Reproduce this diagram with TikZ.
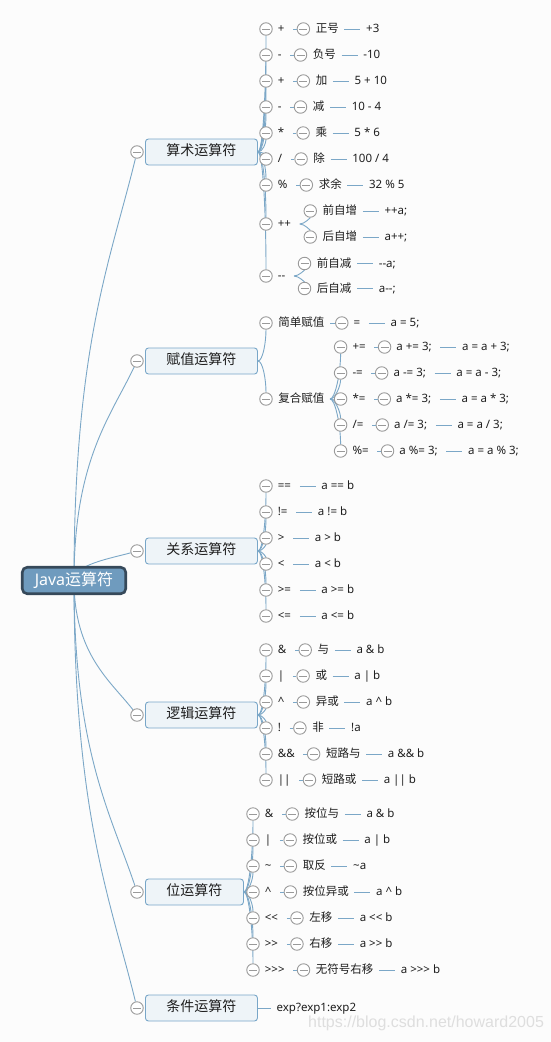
\documentclass[tikz,border=0pt]{standalone}
\usepackage{fontspec}
\setmainfont{Noto Sans}[Ligatures=TeXOff]
\newfontfamily\cjk{Noto Sans CJK SC}
\newfontfamily\wmfont{Liberation Sans}
\usetikzlibrary{positioning,calc}
\definecolor{bgc}{HTML}{FCFCFC}
\definecolor{lnc}{HTML}{7BA7C7}
\definecolor{cg}{HTML}{9A9A9A}
\definecolor{txt}{HTML}{1E1E1E}
\definecolor{bxf}{HTML}{EEF4F8}
\definecolor{bxb}{HTML}{78A6C8}
\definecolor{rootf}{HTML}{6F9BBE}
\definecolor{rootb}{HTML}{36495A}
\definecolor{wmc}{HTML}{DEDEDE}
\newcommand\fsm{\fontsize{11.5pt}{13pt}\selectfont}
\newcommand\fbig{\fontsize{14pt}{16pt}\selectfont}
\newcommand\froot{\fontsize{16pt}{18pt}\selectfont}
\pgfdeclarelayer{back}\pgfdeclarelayer{lines}\pgfsetlayers{back,lines,main}
\tikzset{
 cc/.style={circle, draw=cg, fill=white, line width=0.9pt, minimum size=12.5pt, inner sep=0pt,
   path picture={\draw[cg, line width=0.9pt] ($(path picture bounding box.center)+(-4,0)$) -- ($(path picture bounding box.center)+(4,0)$);}},
 lb/.style={font=\fsm, text=txt, inner xsep=5.5pt, inner ysep=1pt, text height=9.5pt, text depth=2.5pt},
 op/.style={lb, inner xsep=5pt, execute at end node={\kern3.5pt}},
 ln/.style={draw=lnc, line width=0.9pt},
 bx/.style={draw=bxb, fill=bxf, line width=0.9pt, rounded corners=3pt, inner xsep=21pt, inner ysep=2pt,
   minimum height=26pt, font=\fbig, text=txt, anchor=west, text height=10.5pt, text depth=3pt},
 rt/.style={draw=rootb, fill=rootf, line width=2.6pt, rounded corners=5pt, minimum width=103.5pt,
   minimum height=26.5pt, text=white, font=\froot, inner sep=0pt},
}
\newcommand\opthree[5]{%
 \node[cc] (#1) at (#2) {};
 \node[op, right=0pt of #1] (#1l) {#3};
 \node[cc, right=3.5pt of #1l] (#1c) {};
 \node[lb, right=0pt of #1c] (#1t) {\cjk #4};
 \node[lb, right=16pt of #1t] (#1v) {#5};
 \draw[ln] (#1l) -- (#1c);
 \draw[ln] (#1t) -- (#1v);
}
\newcommand\optwo[4]{%
 \node[cc] (#1) at (#2) {};
 \node[op, right=0pt of #1] (#1l) {#3};
 \node[lb, right=16pt of #1l] (#1v) {#4};
 \draw[ln] (#1l) -- (#1v);
}
\newcommand\cjkpair[4]{%
 \node[cc] (#1) at (#2) {};
 \node[lb, right=0pt of #1] (#1t) {\cjk #3};
 \node[lb, right=16pt of #1t] (#1v) {#4};
 \draw[ln] (#1t) -- (#1v);
}
\newcommand\compound[5]{%
 \node[cc] (#1) at (#2) {};
 \node[op, right=0pt of #1] (#1l) {#3};
 \node[cc, right=3.5pt of #1l] (#1c) {};
 \node[op, right=0pt of #1c] (#1t) {#4};
 \node[lb, right=16pt of #1t] (#1v) {#5};
 \draw[ln] (#1l) -- (#1c);
 \draw[ln] (#1t) -- (#1v);
}
\newcommand\fan[2]{\draw[ln] (#1) .. controls ($(#1)+(5,0)$) and ($(#2)!0.5!(#2 |- #1)$) .. (#2);}
\newcommand\rootline[1]{\draw[ln] (root.center) .. controls ($(root.center)!0.55!(root.center |- #1)$) and ($(#1)!0.25!(#1 |- root.center)+(-26,0)$) .. (#1);}
\begin{document}
\begin{tikzpicture}[x=1pt,y=-1pt]
\useasboundingbox (0,0) rectangle (551,1042);
\begin{pgfonlayer}{back}
\fill[bgc] (0,0) rectangle (551,1042);
\end{pgfonlayer}

% root
\node[rt] (root) at (74,580.5) {Java{\cjk 运算符}};

% branch boxes
\node[bx] (b1) at (145,152) {\cjk 算术运算符};
\node[cc] (bc1) at (137,152) {};
\node[bx] (b2) at (145,361) {\cjk 赋值运算符};
\node[cc] (bc2) at (137,361) {};
\node[bx] (b3) at (145,551) {\cjk 关系运算符};
\node[cc] (bc3) at (137,551) {};
\node[bx] (b4) at (145,715) {\cjk 逻辑运算符};
\node[cc] (bc4) at (137,715) {};
\node[bx] (b5) at (145,892) {\cjk 位运算符};
\node[cc] (bc5) at (137,892) {};
\node[bx] (b6) at (145,1008) {\cjk 条件运算符};
\node[cc] (bc6) at (137,1008) {};

% arithmetic
\opthree{a1}{266,29}{+}{正号}{+3}
\opthree{a2}{266,55}{-}{负号}{-10}
\opthree{a3}{266,81}{+}{加}{5 + 10}
\opthree{a4}{266,107}{-}{减}{10 - 4}
\opthree{a5}{266,133}{*}{乘}{5 * 6}
\opthree{a6}{266,159}{/}{除}{100 / 4}
\opthree{a7}{266,185}{\%}{求余}{32 \% 5}
\node[cc] (a8) at (266,224) {};
\node[op, right=0pt of a8] (a8l) {++};
\cjkpair{a8a}{$(a8l.east)+(10.5,-13)$}{前自增}{++a;}
\cjkpair{a8b}{$(a8l.east)+(10.5,13)$}{后自增}{a++;}
\node[cc] (a9) at (266,276) {};
\node[op, right=0pt of a9] (a9l) {-{}-};
\cjkpair{a9a}{$(a9l.east)+(10.5,-12.5)$}{前自减}{-{}-a;}
\cjkpair{a9b}{$(a9l.east)+(10.5,12.5)$}{后自减}{a-{}-;}

% assignment
\node[cc] (s1) at (266,323) {};
\node[lb, right=0pt of s1] (s1l) {\cjk 简单赋值};
\node[cc, right=5pt of s1l] (s1c) {};
\node[op, right=0pt of s1c] (s1t) {=};
\node[lb, right=16pt of s1t] (s1v) {a = 5;};
\draw[ln] (s1l) -- (s1c);
\draw[ln] (s1t) -- (s1v);
\node[cc] (s2) at (266,399) {};
\node[lb, right=0pt of s2] (s2l) {\cjk 复合赋值};
\compound{k1}{$(s2l.east)+(10.5,-52)$}{+=}{a += 3;}{a = a + 3;}
\compound{k2}{$(s2l.east)+(10.5,-26)$}{-=}{a -= 3;}{a = a - 3;}
\compound{k3}{$(s2l.east)+(10.5,0)$}{*=}{a *= 3;}{a = a * 3;}
\compound{k4}{$(s2l.east)+(10.5,26)$}{/=}{a /= 3;}{a = a / 3;}
\compound{k5}{$(s2l.east)+(10.5,52)$}{\%=}{a \%= 3;}{a = a \% 3;}

% relational
\optwo{r1}{266,486}{==}{a == b}
\optwo{r2}{266,512}{!=}{a != b}
\optwo{r3}{266,538}{>}{a > b}
\optwo{r4}{266,564}{<}{a < b}
\optwo{r5}{266,590}{>=}{a >= b}
\optwo{r6}{266,616}{<=}{a <= b}

% logical
\opthree{l1}{266,650}{\&}{与}{a \& b}
\opthree{l2}{266,676}{|}{或}{a | b}
\opthree{l3}{266,702}{\textasciicircum}{异或}{a \textasciicircum{} b}
\opthree{l4}{266,728}{!}{非}{!a}
\opthree{l5}{266,754}{\&\&}{短路与}{a \&\& b}
\opthree{l6}{266,780}{||}{短路或}{a || b}

% bitwise
\opthree{w1}{253,814}{\&}{按位与}{a \& b}
\opthree{w2}{253,840}{|}{按位或}{a | b}
\opthree{w3}{253,866}{\textasciitilde}{取反}{\textasciitilde a}
\opthree{w4}{253,892}{\textasciicircum}{按位异或}{a \textasciicircum{} b}
\opthree{w5}{253,918}{<<}{左移}{a << b}
\opthree{w6}{253,944}{>>}{右移}{a >> b}
\opthree{w7}{253,970}{>>>}{无符号右移}{a >>> b}

% conditional
\node[lb, right=13pt of b6] (b6v) {exp?exp1:exp2};
\draw[ln] (b6) -- (b6v);

% watermark
\node[anchor=west, text=wmc, font=\wmfont\fontsize{16pt}{18pt}\selectfont, inner sep=0pt] (wm) at (308,1023) {https://blog.csdn.net/howard2005};

\begin{pgfonlayer}{lines}
\rootline{bc1}\rootline{bc2}\rootline{bc3}\rootline{bc4}\rootline{bc5}\rootline{bc6}
\fan{b1.east}{a1}\fan{b1.east}{a2}\fan{b1.east}{a3}\fan{b1.east}{a4}\fan{b1.east}{a5}
\fan{b1.east}{a6}\fan{b1.east}{a7}\fan{b1.east}{a8}\fan{b1.east}{a9}
\fan{a8l.east}{a8a}\fan{a8l.east}{a8b}
\fan{a9l.east}{a9a}\fan{a9l.east}{a9b}
\fan{b2.east}{s1}\fan{b2.east}{s2}
\fan{s2l.east}{k1}\fan{s2l.east}{k2}\fan{s2l.east}{k3}\fan{s2l.east}{k4}\fan{s2l.east}{k5}
\fan{b3.east}{r1}\fan{b3.east}{r2}\fan{b3.east}{r3}\fan{b3.east}{r4}\fan{b3.east}{r5}\fan{b3.east}{r6}
\fan{b4.east}{l1}\fan{b4.east}{l2}\fan{b4.east}{l3}\fan{b4.east}{l4}\fan{b4.east}{l5}\fan{b4.east}{l6}
\fan{b5.east}{w1}\fan{b5.east}{w2}\fan{b5.east}{w3}\fan{b5.east}{w4}\fan{b5.east}{w5}\fan{b5.east}{w6}\fan{b5.east}{w7}
\end{pgfonlayer}
\end{tikzpicture}
\end{document}
